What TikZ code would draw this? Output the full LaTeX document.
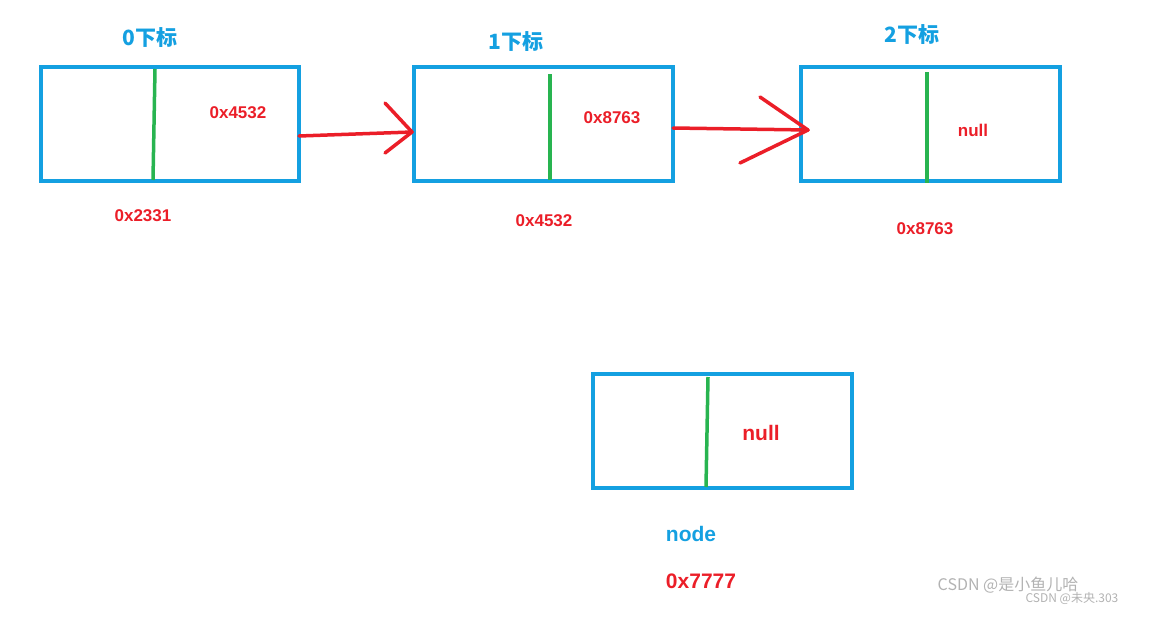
\documentclass[tikz,border=0pt]{standalone}
\usepackage{fontspec}
\setmainfont{Liberation Sans}
\newfontfamily\cjk{Noto Sans CJK SC}
\definecolor{bl}{RGB}{20,160,225}
\definecolor{gr}{RGB}{40,180,80}
\definecolor{rd}{RGB}{235,30,40}
\begin{document}
\begin{tikzpicture}[x=1pt,y=-1pt,
  cell/.style={draw=bl,line width=4pt},
  div/.style={draw=gr,line width=3.5pt},
  hd/.style={text=bl,font=\cjk\bfseries\fontsize{21}{24}\selectfont},
  addr/.style={text=rd,font=\bfseries\fontsize{17}{20}\selectfont},
  arr/.style={draw=rd,line width=3.5pt,line cap=round,line join=round}]
\path[use as bounding box] (0,0) rectangle (1150,616);
\draw[cell] (41,67) rectangle (299,181);
\draw[cell] (414,67) rectangle (673,181);
\draw[cell] (801,67) rectangle (1060,181);
\draw[cell] (593,374) rectangle (852,488);
\draw[div] (155,69) -- (153,180);
\draw[div] (550,74) -- (550,180);
\draw[div] (927,72) -- (927,183);
\draw[div] (708,377) -- (706,487);
\node[hd] (h0) at (150,38) {0下标};
\node[hd] (h1) at (516,42) {1下标};
\node[hd] (h2) at (912,35) {2下标};
\node[addr] (n0) at (238,113) {0x4532};
\node[addr] (n1) at (612,118) {0x8763};
\node[addr] (n2) at (973,130) {null};
\node[addr] (a0) at (143,216) {0x2331};
\node[addr] (a1) at (544,221) {0x4532};
\node[addr] (a2) at (925,229) {0x8763};
\node[addr,font=\bfseries\fontsize{21}{24}\selectfont] (n3) at (761,433) {null};
\node[hd,font=\bfseries\fontsize{21}{24}\selectfont] (lb) at (691,534) {node};
\node[addr,font=\bfseries\fontsize{21}{24}\selectfont] (a3) at (701,581) {0x7777};
\coordinate (s0) at (299,136); \coordinate (e0) at (412,132);
\coordinate (s1) at (673,128); \coordinate (e1) at (808,130);
\draw[arr] (s0) -- (e0);
\draw[arr] (385,103) -- (e0) -- (385,153);
\draw[arr] (s1) -- (e1);
\draw[arr] (760,97) -- (e1) -- (740,163);
\node[text=gray!60,font=\cjk\fontsize{16}{18}\selectfont] (w) at (1008,585) {CSDN @是小鱼儿哈};
\node[text=gray!60,font=\cjk\fontsize{12}{14}\selectfont] (w2) at (1072,598) {CSDN @未央.303};
\end{tikzpicture}
\end{document}
